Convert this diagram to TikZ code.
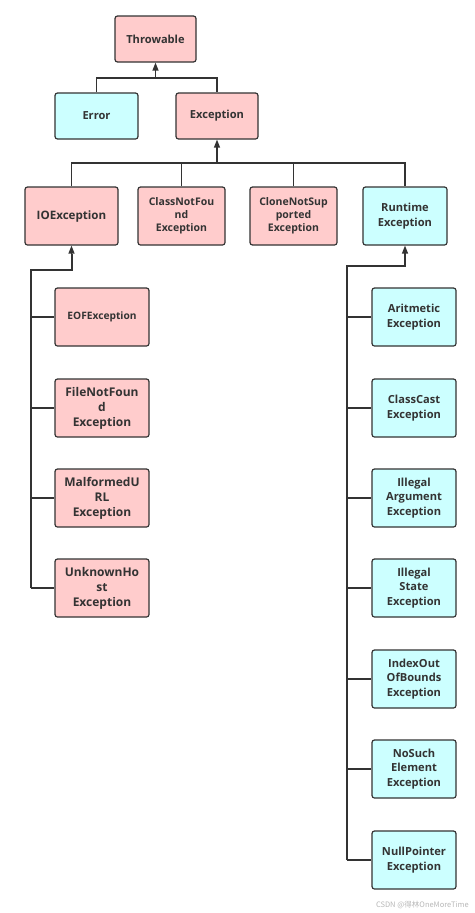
\documentclass[tikz,border=0pt]{standalone}
\usepackage{fontspec}
\setmainfont{Open Sans}
\newfontfamily\cjkfont{Noto Sans CJK SC}
\usetikzlibrary{arrows.meta}
\definecolor{pinkfill}{HTML}{FFCCCC}
\definecolor{cyanfill}{HTML}{CCFFFF}
\definecolor{edgecol}{HTML}{333333}
\definecolor{textcol}{HTML}{333333}
\begin{document}
\begin{tikzpicture}[x=1pt,y=-1pt,
  box/.style={draw=edgecol,line width=1.2pt,rounded corners=2.5pt,align=center,
    font=\bfseries\fontsize{11.1}{14.5}\selectfont,text=textcol,inner sep=0pt},
  pinkbox/.style={box,fill=pinkfill},
  cyanbox/.style={box,fill=cyanfill},
  conn/.style={draw=edgecol,line width=1.3pt},
  trunk/.style={draw=edgecol,line width=2pt},
  arr/.style={-{Triangle[length=8pt,width=6pt]}}]
\useasboundingbox (0,0) rectangle (474,913);
\fill[white] (0,0) rectangle (474,913);
% top levels
\node[pinkbox,minimum width=81pt,minimum height=46pt] (thr) at (155.5,39) {Throwable};
\node[cyanbox,minimum width=83pt,minimum height=46pt] (err) at (96.5,116) {Error};
\node[pinkbox,minimum width=82pt,minimum height=46pt] (exc) at (217,116) {Exception};
% row 3
\node[pinkbox,minimum width=93pt,minimum height=58pt,font=\bfseries\fontsize{11.6}{13}\selectfont] (io) at (71.5,216) {IOException};
\node[pinkbox,minimum width=87pt,minimum height=58pt,font=\bfseries\fontsize{10.5}{12.8}\selectfont] (cnf) at (181.5,216) {ClassNotFou\\nd\\Exception};
\node[pinkbox,minimum width=87pt,minimum height=58pt,font=\bfseries\fontsize{10.5}{12.8}\selectfont] (cns) at (293.5,216) {CloneNotSup\\ported\\Exception};
\node[cyanbox,minimum width=84pt,minimum height=58pt] (rt) at (405,216) {Runtime\\Exception};
% IO children
\node[pinkbox,minimum width=94pt,minimum height=58pt,font=\bfseries\fontsize{10.2}{12}\selectfont] (eof) at (102,317) {EOFException};
\foreach \n/\y/\t in {fnf/408/{FileNotFoun\\d\\Exception},mal/498/{MalformedU\\RL\\Exception},unk/588/{UnknownHo\\st\\Exception}}{
  \node[pinkbox,minimum width=94pt,minimum height=58pt,font=\bfseries\fontsize{12}{15}\selectfont] (\n) at (102,\y) {\t};
}
% Runtime children
\foreach \n/\y/\t in {ari/317/{Aritmetic\\Exception},ccs/408/{ClassCast\\Exception},iae/498/{Illegal\\Argument\\Exception},ise/588/{Illegal\\State\\Exception},ioob/679/{IndexOut\\OfBounds\\Exception},nse/769/{NoSuch\\Element\\Exception},npe/860/{NullPointer\\Exception}}{
  \node[cyanbox,minimum width=84pt,minimum height=58pt] (\n) at (414,\y) {\t};
}
% coordinates
\coordinate (j1) at (155.5,78);
\coordinate (j2) at (217,163);
\coordinate (ioc) at (31,270);
\coordinate (rtc) at (347,266);
% connectors level 1
\draw[conn] (err.north) |- (j1) -| (exc.north);
\draw[conn,arr] (j1) -- (thr.south);
% level 2
\draw[conn] (io.north) |- (j2) -| (rt.north);
\draw[conn] (cnf.north) -- (cnf.north |- j2);
\draw[conn] (cns.north) -- (cns.north |- j2);
\draw[conn,arr] (j2) -- (exc.south);
% IO branch
\draw[trunk] (unk.west -| ioc) -- (ioc) -| ([yshift=-8pt]io.south);
\draw[conn,arr] ([yshift=-10pt]io.south) -- (io.south);
\foreach \n in {eof,fnf,mal,unk}{\draw[conn] (\n.west -| ioc) -- (\n.west);}
% Runtime branch
\draw[trunk] (npe.west -| rtc) -- (rtc) -| ([yshift=-8pt]rt.south);
\draw[conn,arr] ([yshift=-10pt]rt.south) -- (rt.south);
\foreach \n in {ari,ccs,iae,ise,ioob,nse,npe}{\draw[conn] (\n.west -| rtc) -- (\n.west);}
% watermark
\node[text=black!28,font=\cjkfont\fontsize{7.5}{8}\selectfont,anchor=east,inner sep=0pt] (wm) at (469,905) {CSDN @得林OneMoreTime};
\end{tikzpicture}
\end{document}
